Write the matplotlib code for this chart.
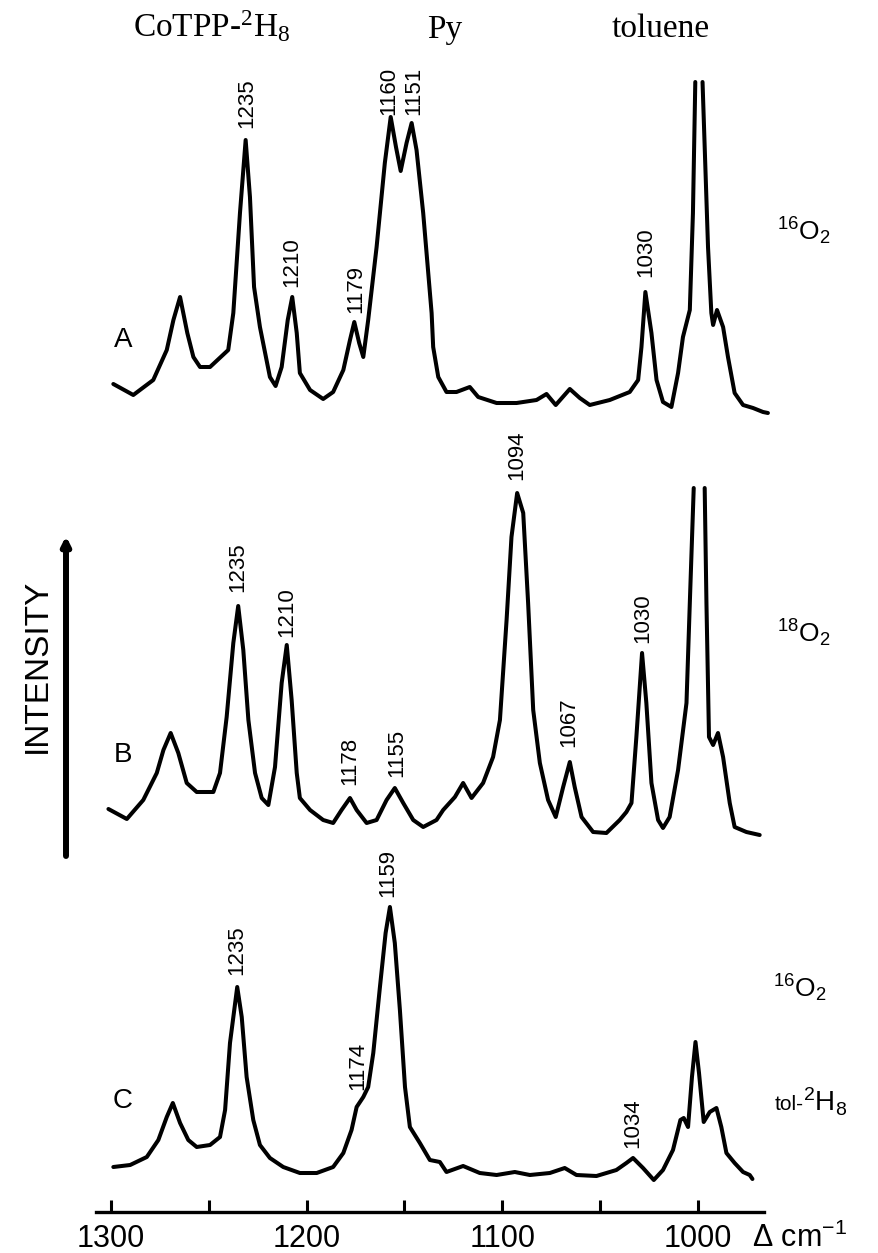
import numpy as np
import matplotlib.pyplot as plt

plt.rcParams['font.family'] = 'Liberation Sans'

W, H = 879, 1253
nan = np.nan

# spectrum A: CoTPP-2H8 / Py / toluene, 16O2
wn_A = [1298.7, 1288.5, 1278.3, 1271.4, 1268.0, 1264.6, 1260.9, 1257.8, 1254.4, 1249.3,
        1240.0, 1237.4, 1234.0, 1231.1, 1228.9, 1226.8, 1223.8, 1218.7, 1215.8, 1212.7,
        1209.6, 1207.3, 1205.0, 1203.4, 1198.2, 1191.5, 1186.4, 1181.2, 1177.8, 1175.6,
        1173.1, 1171.0, 1168.5, 1164.2, 1160.0, 1157.0, 1154.3, 1151.9, 1148.9, 1146.3,
        1143.8, 1140.4, 1136.1, 1135.3, 1132.7, 1128.5, 1123.4, 1116.6, 1112.3, 1102.9,
        1092.7, 1082.5, 1077.4, 1072.7, 1065.5, 1060.4, 1055.3, 1045.1, 1034.9, 1030.6,
        1028.9, 1026.9, 1023.8, 1021.2, 1017.9, 1013.6, 1010.2, 1007.7, 1004.2, 1002.6,
        1001.4, 999.6, 997.7, 994.9, 993.2, 992.3, 990.3, 987.2, 984.7, 981.3,
        977.0, 971.9, 966.8, 964.3]
int_A = [31, 20, 35, 65, 95, 118, 82, 58, 48, 48,
         65, 102, 202, 275, 218, 128, 88, 38, 29, 48,
         95, 118, 82, 42, 25, 16, 23, 45, 75, 93,
         72, 58, 95, 168, 252, 298, 268, 244, 272, 292,
         265, 202, 102, 68, 38, 23, 23, 28, 18, 12,
         12, 15, 21, 10, 26, 17, 10, 15, 23, 35,
         68, 123, 82, 35, 13, 8, 42, 78, 105, 202,
         333, nan, 333, 168, 102, 90, 105, 88, 58, 22,
         10, 7, 3, 2]

# spectrum B: 18O2
wn_B = [1301.2, 1291.8, 1283.4, 1276.5, 1273.1, 1269.4, 1265.5, 1261.2, 1256.1, 1247.6,
        1244.2, 1240.8, 1237.4, 1234.9, 1232.3, 1229.7, 1226.3, 1222.9, 1219.5, 1216.1,
        1212.7, 1210.1, 1207.6, 1205.0, 1203.4, 1198.2, 1191.5, 1186.4, 1182.1, 1177.8,
        1174.4, 1169.3, 1164.2, 1159.1, 1154.9, 1150.6, 1145.5, 1140.4, 1133.6, 1130.2,
        1124.2, 1120.0, 1115.7, 1109.8, 1104.7, 1101.2, 1097.8, 1095.3, 1092.4, 1089.3,
        1086.8, 1084.2, 1080.8, 1076.6, 1072.7, 1068.9, 1065.5, 1063.0, 1059.5, 1053.6,
        1046.8, 1040.0, 1036.6, 1034.0, 1031.5, 1028.6, 1026.4, 1023.8, 1020.4, 1017.9,
        1014.5, 1010.2, 1005.9, 1004.2, 1002.2, 999.4, 996.6, 995.7, 994.4, 992.3,
        989.8, 987.2, 983.8, 981.3, 975.3, 968.5]
int_B = [31, 21, 40, 67, 90, 107, 87, 57, 48, 48,
         67, 123, 197, 234, 190, 120, 67, 42, 35, 73,
         157, 195, 140, 67, 42, 30, 20, 17, 30, 42,
         30, 17, 20, 40, 52, 37, 20, 13, 20, 30,
         43, 57, 42, 57, 83, 120, 220, 303, 347, 327,
         237, 130, 77, 40, 23, 53, 78, 53, 23, 8,
         7, 20, 28, 37, 103, 187, 137, 57, 20, 12,
         23, 70, 137, 237, 352, nan, 352, 237, 103, 95,
         107, 83, 37, 13, 8, 5]

# spectrum C: 16O2 in tol-2H8
wn_C = [1298.7, 1290.1, 1281.6, 1275.7, 1271.4, 1268.3, 1264.6, 1260.4, 1256.1, 1249.3,
        1244.2, 1241.6, 1239.1, 1235.4, 1233.1, 1230.6, 1227.2, 1223.8, 1218.7, 1211.9,
        1203.4, 1194.8, 1186.4, 1181.2, 1177.0, 1174.4, 1171.0, 1168.5, 1165.9, 1162.5,
        1159.6, 1157.4, 1154.9, 1152.3, 1149.7, 1147.2, 1142.1, 1137.0, 1131.9, 1128.5,
        1120.0, 1111.5, 1102.9, 1093.6, 1085.9, 1075.7, 1068.1, 1062.1, 1051.9, 1041.7,
        1036.6, 1033.2, 1028.1, 1022.6, 1017.9, 1012.8, 1009.0, 1007.3, 1005.1, 1003.1,
        1001.3, 999.5, 997.1, 994.0, 990.6, 988.1, 985.5, 981.3, 977.0, 973.6, 972.2]
int_C = [18, 20, 28, 45, 68, 82, 62, 45, 38, 40,
         48, 75, 142, 198, 168, 108, 65, 40, 27, 18,
         12, 12, 18, 32, 55, 78, 88, 98, 132, 198,
         252, 278, 242, 175, 98, 58, 42, 25, 23, 13,
         19, 12, 10, 13, 10, 12, 17, 10, 9, 15,
         22, 27, 17, 5, 15, 35, 65, 67, 58, 108,
         143, 112, 63, 73, 77, 58, 32, 22, 13, 10, 6]

# peak labels: text, wavenumber, intensity at the foot of the label
peaks_A = [("1235", 1230.6, 287), ("1210", 1207.6, 128), ("1179", 1174.8, 102),
           ("1160", 1157.9, 300), ("1151", 1145.2, 300), ("1030", 1026.7, 138)]
peaks_B = [("1235", 1234.9, 248), ("1210", 1210.1, 203), ("1178", 1177.8, 55),
           ("1155", 1154.0, 63), ("1094", 1092.6, 360), ("1067", 1065.9, 93),
           ("1030", 1028.4, 197)]
peaks_C = [("1235", 1235.4, 210), ("1174", 1173.6, 95), ("1159", 1158.4, 288),
           ("1034", 1033.5, 37)]

major_ticks = [1300, 1200, 1100, 1000]
minor_ticks = [1250, 1150, 1050]


def fx(px):
    return px / W


def fy(py):
    return 1 - py / H


fig = plt.figure(figsize=(W / 100, H / 100), dpi=100)
ax = fig.add_axes([fx(95.7), fy(1211.7), (764 - 95.7) / W, 1211.7 / H])
ax.set_xlim(1307.7, 966.3)
ax.set_ylim(0, 1211.7)

# vertical offsets of the three traces (in axes units above the x axis)
spectra = [(wn_A, int_A, peaks_A, 796.7),
           (wn_B, int_B, peaks_B, 371.7),
           (wn_C, int_C, peaks_C, 26.7)]

for wn, inten, peaks, off in spectra:
    ax.plot(wn, off + np.array(inten, dtype=float), color='black', lw=2.9,
            solid_joinstyle='round', solid_capstyle='round', clip_on=False)
    for txt, x, y in peaks:
        ax.text(x, off + y, txt, rotation=90, ha='center', va='bottom',
                fontsize=16, clip_on=False)

for s in ['left', 'right', 'top']:
    ax.spines[s].set_visible(False)
ax.spines['bottom'].set_linewidth(2.4)
ax.set_yticks([])
ax.set_xticks(major_ticks)
ax.set_xticks(minor_ticks, minor=True)
ax.tick_params(axis='x', which='both', direction='in', length=8.6, width=2.2,
               pad=9, labelsize=22)
ax.set_facecolor('none')

fig.text(fx(752), fy(1247), 'Δ cm$\\mathregular{^{-1}}$', fontsize=22,
         ha='left', va='baseline')

# titles above the bands
serif = 'Liberation Serif'
fig.text(fx(212), fy(37), 'CoTPP-$\\mathregular{^2}$H$\\mathregular{_8}$',
         family=serif, fontsize=24, ha='center', va='baseline')
fig.text(fx(445), fy(38), 'Py', family=serif, fontsize=24, ha='center', va='baseline')
fig.text(fx(661), fy(37), 'toluene', family=serif, fontsize=24, ha='center', va='baseline')

# trace letters
fig.text(fx(123), fy(346.7), 'A', fontsize=20, ha='center', va='baseline')
fig.text(fx(123), fy(762), 'B', fontsize=20, ha='center', va='baseline')
fig.text(fx(123), fy(1108), 'C', fontsize=20, ha='center', va='baseline')

# isotope labels on the right
fig.text(fx(777), fy(240), '$\\mathregular{^{16}}$O$\\mathregular{_2}$', fontsize=19,
         ha='left', va='baseline')
fig.text(fx(777), fy(642), '$\\mathregular{^{18}}$O$\\mathregular{_2}$', fontsize=19,
         ha='left', va='baseline')
fig.text(fx(773), fy(997), '$\\mathregular{^{16}}$O$\\mathregular{_2}$', fontsize=19,
         ha='left', va='baseline')
fig.text(fx(775), fy(1110), 'tol-', fontsize=15, ha='left', va='baseline')
fig.text(fx(803), fy(1112), '$\\mathregular{^2}$H$\\mathregular{_8}$', fontsize=20,
         ha='left', va='baseline')

# intensity arrow
fig.text(fx(37), fy(666), 'INTENSITY', rotation=90, fontsize=24,
         ha='center', va='center')
ax.annotate('', xy=(fx(66), fy(536)), xytext=(fx(66), fy(856)),
            xycoords='figure fraction', textcoords='figure fraction',
            arrowprops=dict(arrowstyle='-|>', lw=4.3, color='black',
                            mutation_scale=12, shrinkA=0, shrinkB=0))

fig.savefig('out.png', dpi=100)
